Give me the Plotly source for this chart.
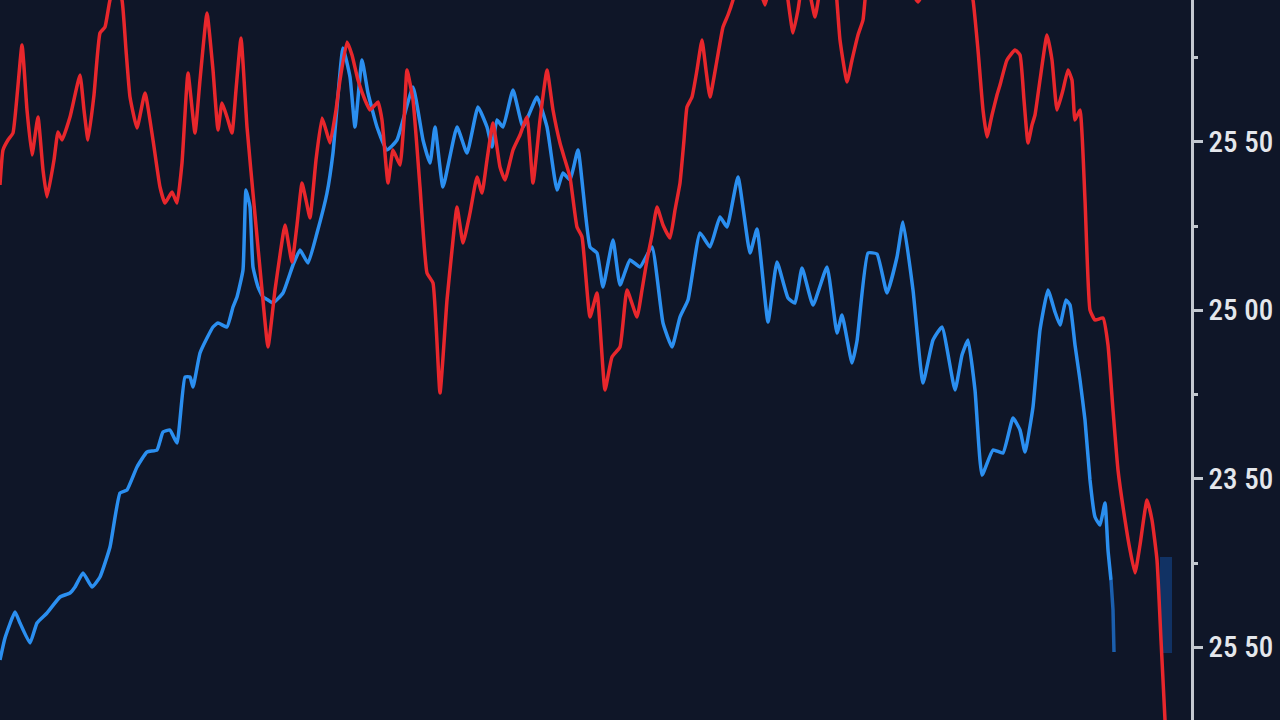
import plotly.graph_objects as go

# Series (x = time step, value = level on the chart's own scale)
red_x = [0, 3, 8, 13, 22, 27, 32, 38, 43, 47, 54, 58, 62, 70, 80, 84, 88, 94, 100, 105,
         110, 116, 122, 126, 130, 137, 145, 153, 160, 165, 172, 177, 182, 188, 195, 200,
         207, 213, 218, 222, 227, 232, 236, 241, 247, 255, 262, 268, 275, 280, 285, 292,
         297, 302, 306, 310, 316, 322, 326, 330, 336, 340, 347, 352, 358, 365, 370, 375,
         378, 382, 388, 393, 400, 404, 407, 413, 420, 427, 433, 440, 447, 452, 457, 463,
         470, 477, 482, 487, 493, 500, 505, 513, 520, 527, 533, 540, 547, 553, 560, 565,
         570, 577, 582, 590, 597, 605, 612, 620, 627, 637, 642, 647, 652, 657, 663, 670,
         675, 680, 684, 687, 692, 697, 702, 706, 710, 717, 723, 728, 733, 740, 748, 755,
         760, 765, 770, 778, 785, 790, 793, 798, 803, 810, 815, 820, 828, 835, 840, 847,
         852, 858, 863, 866, 872, 880, 890, 900, 910, 918, 925, 935, 950, 962, 970, 973,
         978, 983, 987, 992, 997, 1000, 1007, 1015, 1020, 1024, 1028, 1032, 1035, 1040,
         1047, 1052, 1057, 1063, 1068, 1072, 1075, 1080, 1085, 1090, 1095, 1103, 1108,
         1113, 1118, 1125, 1130, 1135, 1140, 1147, 1152, 1157, 1161, 1165, 1167]
red_v = [535, 570, 580, 587, 675, 610, 565, 603, 550, 523, 560, 588, 580, 603, 645, 610, 580, 625, 687, 693,
         720, 735, 720, 670, 623, 592, 627, 580, 533, 517, 528, 517, 557, 647, 587, 640,
         707, 650, 590, 617, 603, 587, 630, 682, 593, 505, 430, 373, 430, 465, 495, 458,
         495, 537, 520, 502, 560, 602, 590, 577, 610, 640, 678, 665, 640, 620, 610, 615,
         618, 600, 537, 570, 555, 600, 650, 620, 533, 447, 437, 327, 420, 470, 513, 477,
         507, 543, 527, 560, 597, 553, 540, 570, 585, 603, 537, 600, 650, 610, 577, 560,
         543, 493, 483, 403, 427, 330, 363, 373, 430, 403, 430, 460, 485, 513, 495, 482,
         510, 537, 580, 613, 623, 650, 680, 650, 623, 660, 693, 705, 720, 750, 760, 745,
         730, 715, 735, 760, 740, 705, 687, 710, 740, 725, 703, 730, 765, 740, 680, 638,
         660, 685, 700, 730, 760, 750, 740, 735, 730, 718, 730, 750, 760, 750, 730, 720,
         670, 610, 583, 605, 625, 635, 660, 670, 665, 620, 577, 595, 605, 640,
         685, 660, 610, 630, 650, 640, 600, 610, 520, 410, 400, 402, 375,
         310, 250, 200, 170, 147, 175, 220, 200, 160, 80, 0, -40]

blue_x = [0, 5, 15, 20, 30, 37, 47, 60, 70, 75, 83, 92, 100, 110, 120, 127, 137, 147, 157, 163,
          170, 177, 185, 190, 193, 200, 207, 213, 218, 227, 233, 237, 243, 246, 250, 253,
          258, 263, 268, 273, 283, 293, 300, 308, 317, 327, 333, 343, 350, 355, 362, 368,
          377, 387, 397, 413, 423, 430, 435, 443, 457, 467, 478, 487, 492, 497, 503, 513,
          523, 537, 547, 557, 563, 570, 578, 590, 597, 603, 613, 620, 630, 640, 652, 663,
          672, 680, 688, 700, 710, 720, 727, 738, 750, 757, 768, 777, 788, 795, 802, 813,
          827, 837, 842, 852, 857, 868, 877, 887, 897, 903, 913, 923, 933, 942, 955, 962,
          968, 975, 982, 993, 1003, 1013, 1020, 1025, 1033, 1040, 1048, 1055, 1060, 1066,
          1070, 1075, 1080, 1085, 1090, 1095, 1100, 1105, 1108, 1111]
blue_v = [60, 82, 108, 97, 77, 97, 107, 123, 127, 133, 147, 133, 143, 173, 227, 230, 253, 268, 270, 288,
          290, 277, 343, 343, 333, 367, 382, 393, 397, 393, 413, 423, 450, 530, 513, 453,
          433, 423, 420, 417, 427, 455, 470, 457, 487, 527, 567, 672, 643, 593, 660, 627,
          593, 570, 580, 633, 580, 557, 593, 533, 593, 567, 613, 593, 573, 600, 593, 630,
          593, 623, 593, 530, 547, 540, 570, 473, 467, 433, 480, 435, 460, 453, 473, 397,
          373, 403, 420, 487, 473, 503, 493, 543, 467, 491, 398, 458, 422, 417, 452, 415,
          453, 387, 405, 357, 379, 467, 466, 427, 463, 498, 430, 337, 380, 393, 330, 365,
          380, 330, 245, 270, 267, 302, 290, 268, 313, 390, 430, 408, 395, 420,
          415, 375, 340, 300, 240, 203, 195, 217, 170, 140]

# fading tail of the blue series
tail_x = [1111, 1113, 1114]
tail_v = [140, 110, 68]

# faint dark-blue block near the right edge
ghost_x = [1166]
ghost_base = [67]
ghost_h = [96]

tick_vals = [73, 241.5, 410, 578.5]
tick_text = ["25 50", "23 50", "25 00", "25 50"]
minor_vals = [157, 325.5, 494, 662.5]

BG = "#0f1628"
AXIS = "#c3c8d0"

fig = go.Figure()
fig.add_trace(go.Bar(x=ghost_x, y=ghost_h, base=ghost_base, width=12,
                     marker=dict(color="#123f7e", line=dict(width=0)), opacity=0.7,
                     hoverinfo="skip", showlegend=False))
fig.add_trace(go.Scatter(x=tail_x, y=tail_v, mode="lines",
                         line=dict(color="#1b5fae", width=3.5),
                         hoverinfo="skip", showlegend=False))
fig.add_trace(go.Scatter(x=blue_x, y=blue_v, mode="lines",
                         line=dict(color="#2b8ff0", width=3.5, shape="spline", smoothing=0.4),
                         showlegend=False))
fig.add_trace(go.Scatter(x=red_x, y=red_v, mode="lines",
                         line=dict(color="#e8272c", width=3.5, shape="spline", smoothing=0.4),
                         showlegend=False))

fig.update_layout(
    width=1280, height=720,
    margin=dict(l=0, r=89, t=0, b=0),
    paper_bgcolor=BG, plot_bgcolor=BG,
    showlegend=False,
    bargap=0,
    xaxis=dict(range=[0, 1191], visible=False, showgrid=False, zeroline=False, fixedrange=True),
    yaxis=dict(
        range=[0, 720], side="right", showgrid=False, zeroline=False,
        showline=True, linecolor=AXIS, linewidth=2.5, mirror=False,
        ticks="outside", ticklen=9, tickwidth=2.5, tickcolor=AXIS,
        tickmode="array", tickvals=tick_vals, ticktext=tick_text,
        tickfont=dict(family="Roboto Condensed, DejaVu Sans Condensed, sans-serif",
                      size=29, color="#e4e7ec", weight=500),
        minor=dict(tickmode="array", tickvals=minor_vals, ticks="outside",
                   ticklen=4, tickwidth=2.5, tickcolor=AXIS, showgrid=False),
        automargin=False, fixedrange=True,
    ),
)

fig.write_html("out.html", config={"displayModeBar": False},
               post_script="document.body.style.margin='0';")
